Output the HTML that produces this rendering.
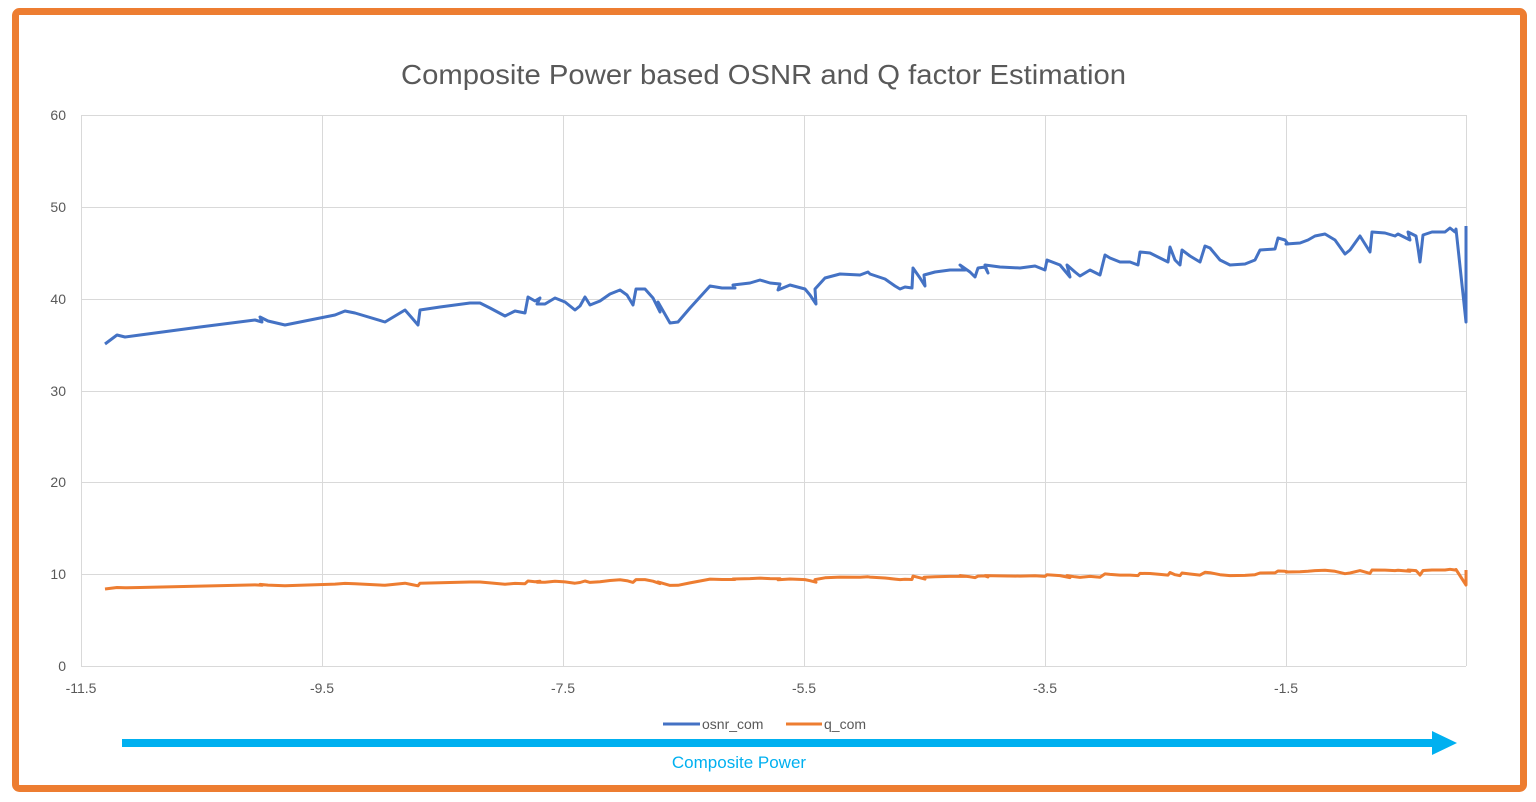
<!DOCTYPE html>
<html><head><meta charset="utf-8"><style>
html,body{margin:0;padding:0;background:#fff;}
body{width:1536px;height:802px;position:relative;overflow:hidden;font-family:"Liberation Sans",sans-serif;}
</style></head><body>
<svg width="1536" height="802" xmlns="http://www.w3.org/2000/svg" style="position:absolute;left:0;top:0">
<rect x="15.5" y="11.5" width="1508" height="777" rx="4" fill="none" stroke="#ED7D31" stroke-width="7"/>
<text x="401" y="84" textLength="725" lengthAdjust="spacingAndGlyphs" font-size="28" fill="#595959" font-family="Liberation Sans, sans-serif">Composite Power based OSNR and Q factor Estimation</text>
<g stroke="#d9d9d9" stroke-width="1">
<line x1="81" y1="115.5" x2="1466" y2="115.5"/>
<line x1="81" y1="207.5" x2="1466" y2="207.5"/>
<line x1="81" y1="299.5" x2="1466" y2="299.5"/>
<line x1="81" y1="391.5" x2="1466" y2="391.5"/>
<line x1="81" y1="482.5" x2="1466" y2="482.5"/>
<line x1="81" y1="574.5" x2="1466" y2="574.5"/>
<line x1="81" y1="666.5" x2="1466" y2="666.5"/>
<line x1="81.5" y1="115" x2="81.5" y2="666"/>
<line x1="322.5" y1="115" x2="322.5" y2="666"/>
<line x1="563.5" y1="115" x2="563.5" y2="666"/>
<line x1="804.5" y1="115" x2="804.5" y2="666"/>
<line x1="1045.5" y1="115" x2="1045.5" y2="666"/>
<line x1="1286.5" y1="115" x2="1286.5" y2="666"/>
<line x1="1466.5" y1="115" x2="1466.5" y2="666"/>
</g>
<g font-size="14" fill="#595959" text-anchor="end">
<text x="66" y="120">60</text><text x="66" y="212">50</text><text x="66" y="304">40</text>
<text x="66" y="396">30</text><text x="66" y="487">20</text><text x="66" y="579">10</text><text x="66" y="671">0</text>
</g>
<g font-size="14" fill="#595959" text-anchor="middle">
<text x="81" y="693">-11.5</text><text x="322" y="693">-9.5</text><text x="563" y="693">-7.5</text>
<text x="804" y="693">-5.5</text><text x="1045" y="693">-3.5</text><text x="1286" y="693">-1.5</text>
</g>
<path id="blue" fill="none" stroke="#4472C4" stroke-width="3" stroke-linejoin="round"/>
<path id="orange" fill="none" stroke="#ED7D31" stroke-width="3" stroke-linejoin="round"/>
<line x1="663" y1="724" x2="700" y2="724" stroke="#4472C4" stroke-width="3"/>
<text x="702" y="729" font-size="14" fill="#595959">osnr_com</text>
<line x1="786" y1="724" x2="822" y2="724" stroke="#ED7D31" stroke-width="3"/>
<text x="824" y="729" font-size="14" fill="#595959">q_com</text>
<rect x="122" y="739" width="1312" height="8" fill="#00B0F0"/>
<polygon points="1432,731 1457,743 1432,755" fill="#00B0F0"/>
<text x="739" y="768" text-anchor="middle" font-size="17" fill="#00B0F0">Composite Power</text>
</svg>
<script>
var b=[[105,344],[117,335],[125,337],[140,335],[200,327],[255,320],[262,322],[260,317],[268,321],[285,325],[300,322],[335,315],[345,311],[355,313],[385,322],[395,316],[405,310],[412,318],[418,325],[420,310],[440,307],[470,303],[480,303],[490,308],[505,316],[515,311],[525,313],[528,297],[535,301],[540,298],[537,304],[545,304],[555,298],[565,302],[575,310],[580,306],[585,297],[590,305],[600,301],[610,294],[620,290],[627,295],[633,305],[636,289],[645,289],[653,298],[660,312],[658,302],[670,323],[678,322],[690,308],[700,297],[710,286],[722,288],[735,288],[733,285],[750,283],[760,280],[770,283],[780,284],[778,290],[790,285],[805,289],[810,295],[816,304],[815,289],[825,278],[840,274],[860,275],[868,272],[870,274],[885,279],[895,286],[900,289],[905,287],[912,288],[913,268],[920,278],[925,286],[924,275],[935,272],[950,270],[965,270],[960,265],[970,272],[975,277],[978,268],[985,267],[988,273],[985,265],[1000,267],[1020,268],[1035,266],[1045,270],[1047,260],[1060,265],[1070,277],[1067,265],[1075,272],[1080,276],[1090,270],[1100,275],[1105,255],[1110,258],[1120,262],[1130,262],[1138,265],[1140,252],[1150,253],[1160,258],[1168,262],[1170,247],[1175,260],[1180,265],[1182,250],[1190,256],[1200,262],[1205,246],[1210,248],[1220,260],[1230,265],[1245,264],[1255,260],[1260,250],[1275,249],[1278,238],[1285,240],[1288,244],[1286,244],[1300,243],[1308,240],[1315,236],[1325,234],[1335,240],[1345,254],[1350,250],[1360,236],[1370,252],[1372,232],[1385,233],[1395,236],[1398,234],[1410,240],[1408,232],[1416,236],[1418,248],[1420,262],[1423,235],[1432,232],[1445,232],[1450,228],[1455,232],[1456,229],[1466,322],[1466,226]];
var d="",o="";
b.forEach(function(p,i){d+=(i?"L":"M")+p[0]+" "+p[1];
var y=589+(p[1]-344)*0.17; if(i==b.length-2)y=585; if(i==b.length-1)y=570;
o+=(i?"L":"M")+p[0]+" "+y.toFixed(1);});
document.getElementById("blue").setAttribute("d",d);
document.getElementById("orange").setAttribute("d",o);
</script>
</body></html>
